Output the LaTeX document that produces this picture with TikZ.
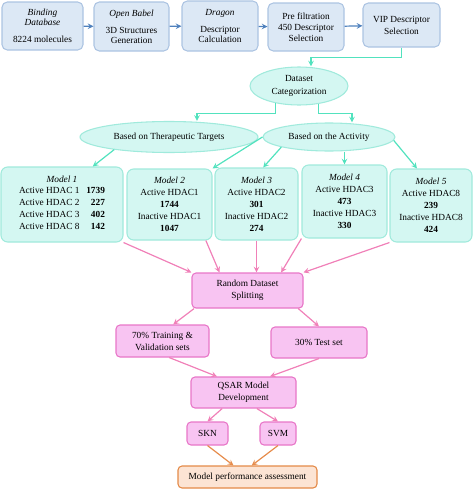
\documentclass[tikz,border=0pt]{standalone}
\usepackage{fontspec}
\setmainfont{Liberation Serif}
\usetikzlibrary{shapes,arrows,positioning,calc}

\definecolor{topfill}{RGB}{220,232,245}
\definecolor{topline}{RGB}{172,196,226}
\definecolor{toparrow}{RGB}{79,129,189}
\definecolor{cyfill}{RGB}{212,247,242}
\definecolor{cyline}{RGB}{160,234,220}
\definecolor{cyarrow}{RGB}{82,226,190}
\definecolor{pkfill}{RGB}{248,196,242}
\definecolor{pkline}{RGB}{232,118,200}
\definecolor{pkarrow}{RGB}{240,128,184}
\definecolor{orfill}{RGB}{252,228,212}
\definecolor{orline}{RGB}{228,138,72}
\definecolor{orarrow}{RGB}{230,140,76}

\begin{document}
\begin{tikzpicture}[x=0.75pt,y=-0.75pt]
  % Estilos
  \tikzstyle{toolbox}=[rectangle, rounded corners=4pt, draw=topline, fill=topfill, line width=0.8pt, align=center, inner sep=1pt, font=\fontsize{7}{8}\selectfont]
  \tikzstyle{catnode}=[ellipse, draw=cyline, fill=cyfill, line width=0.8pt, align=center, inner sep=0pt, font=\fontsize{7}{8}\selectfont]
  \tikzstyle{modelbox}=[rectangle, rounded corners=5pt, draw=cyline, fill=cyfill, line width=0.8pt, align=center, inner sep=1pt, font=\fontsize{7}{9}\selectfont]
  \tikzstyle{stagebox}=[rectangle, rounded corners=3pt, draw=pkline, fill=pkfill, line width=0.8pt, align=center, inner sep=1pt, font=\fontsize{7}{9}\selectfont]
  \tikzstyle{resultbox}=[rectangle, rounded corners=3pt, draw=orline, fill=orfill, line width=0.8pt, align=center, inner sep=1pt, font=\fontsize{7}{9}\selectfont]
  \tikzstyle{flowarrow}=[->, >=stealth, line width=0.9pt]

  \useasboundingbox (0,0) rectangle (474,489);

  % Cadena de preparacion de descriptores
  \node[toolbox, minimum width=60.75pt, minimum height=36pt] (bdb) at (42.5,26) {\textit{Binding}\\[-0.5pt]\textit{Database}\\[4.75pt]8224 molecules};
  \node[toolbox, minimum width=56.25pt, minimum height=36.75pt] (obabel) at (131.5,26.5) {\textit{Open Babel}\\[4.75pt]3D Structures\\[-0.5pt]Generation};
  \node[toolbox, minimum width=57pt, minimum height=37.5pt] (dragon) at (220,26) {\textit{Dragon}\\[4.75pt]Descriptor\\[-0.5pt]Calculation};
  \node[toolbox, minimum width=57pt, minimum height=36pt] (prefilt) at (306,27) {Pre filtration\\[0.25pt]450 Descriptor\\[0.25pt]Selection};
  \node[toolbox, minimum width=57.75pt, minimum height=33pt] (vip) at (401.5,25) {VIP Descriptor\\[1pt]Selection};

  \draw[flowarrow, toparrow] (bdb) -- (obabel);
  \draw[flowarrow, toparrow] (obabel) -- (dragon);
  \draw[flowarrow, toparrow] (dragon) -- (prefilt);
  \draw[flowarrow, toparrow] (prefilt) -- (vip);

  % Categorizacion
  \node[catnode, minimum width=73.5pt, minimum height=28.5pt] (dcat) at (299,86) {Dataset\\[1.5pt]Categorization};
  \node[catnode, minimum width=133.5pt, minimum height=23.25pt] (ther) at (169,137) {Based on Therapeutic Targets};
  \node[catnode, minimum width=99pt, minimum height=21pt] (act) at (329,137) {Based on the Activity};

  % Modelos
  \node[modelbox, minimum width=91.5pt, minimum height=56.25pt] (m1) at (62,204.5) {\textit{Model 1}\\[0.75pt]
    \begin{tabular}{@{}l@{\hspace{5pt}}r@{}}
      Active HDAC 1 & \textbf{1739}\\
      Active HDAC 2 & \textbf{227}\\
      Active HDAC 3 & \textbf{402}\\
      Active HDAC 8 & \textbf{142}
    \end{tabular}};
  \node[modelbox, minimum width=63.75pt, minimum height=53.25pt] (m2) at (169.5,204.5) {\textit{Model 2}\\Active HDAC1\\\textbf{1744}\\Inactive HDAC1\\\textbf{1047}};
  \node[modelbox, minimum width=62.25pt, minimum height=54pt] (m3) at (256.5,204) {\textit{Model 3}\\Active HDAC2\\\textbf{301}\\Inactive HDAC2\\\textbf{274}};
  \node[modelbox, minimum width=63.75pt, minimum height=54.75pt] (m4) at (344.5,201.5) {\textit{Model 4}\\Active HDAC3\\\textbf{473}\\Inactive HDAC3\\\textbf{330}};
  \node[modelbox, minimum width=61.5pt, minimum height=54.75pt] (m5) at (431,205.5) {\textit{Model 5}\\Active HDAC8\\\textbf{239}\\Inactive HDAC8\\\textbf{424}};

  \draw[flowarrow, cyarrow] (vip.south) -- ++(0,10) -| ([xshift=9pt]dcat.north);
  \draw[flowarrow, cyarrow] (dcat.216) -- ++(0,10) -| ([xshift=21pt]ther.north);
  \draw[flowarrow, cyarrow] (dcat.-43) -- ++(0,9.5) -| ([xshift=17.25pt]act.north);
  \draw[flowarrow, cyarrow] (ther.193) -- ($(m1.north)!0.5!(m1.north east)$);
  \draw[flowarrow, cyarrow] (act.west) -- (m2.north east);
  \draw[flowarrow, cyarrow] (act.192) -- ([xshift=5pt]m3.north);
  \draw[flowarrow, cyarrow] (m4.north |- act.south) -- (m4.north);
  \draw[flowarrow, cyarrow] (act.-3) -- ([xshift=-10.5pt]m5.north);

  % Particion y desarrollo QSAR
  \node[stagebox, minimum width=83.25pt, minimum height=26.25pt] (split) at (247.5,290.5) {Random Dataset\\Splitting};
  \node[stagebox, minimum width=69.75pt, minimum height=24pt] (train) at (162.5,341) {70\% Training \&\\Validation sets};
  \node[stagebox, minimum width=72pt, minimum height=23.25pt] (test) at (319,342.5) {30\% Test set};
  \node[stagebox, minimum width=78.75pt, minimum height=23.25pt] (qsar) at (243.5,392.5) {QSAR Model\\Development};
  \node[stagebox, minimum width=30.75pt, minimum height=17.25pt] (skn) at (207.5,433.5) {SKN};
  \node[stagebox, minimum width=27pt, minimum height=17.25pt] (svm) at (278,433.5) {SVM};
  \node[resultbox, minimum width=104.25pt, minimum height=16.5pt] (perf) at (247.5,477) {Model performance assessment};

  \draw[flowarrow, pkarrow] (m1.south east) -- (split.north west);
  \draw[flowarrow, pkarrow] ([xshift=-5pt]m2.south east) -- ($(split.north west)!0.25!(split.north east)$);
  \draw[flowarrow, pkarrow] (m3.south) -- (m3.south |- split.north);
  \draw[flowarrow, pkarrow] (m4.south west) -- ($(split.north west)!0.8!(split.north east)$);
  \draw[flowarrow, pkarrow] (m5.south west) -- (split.north east);
  \draw[flowarrow, pkarrow] ([xshift=2pt]split.south west) -- ([xshift=8pt]train.north);
  \draw[flowarrow, pkarrow] ([xshift=-4pt]split.south east) -- (test.north);
  \draw[flowarrow, pkarrow] ([xshift=5pt]train.south) -- ($(qsar.north west)!0.25!(qsar.north east)$);
  \draw[flowarrow, pkarrow] (test.south) -- ($(qsar.north west)!0.75!(qsar.north east)$);
  \draw[flowarrow, pkarrow] ([xshift=-16pt]qsar.south) -- (skn.north);
  \draw[flowarrow, pkarrow] ([xshift=10pt]qsar.south) -- (svm.north);

  % Evaluacion
  \draw[flowarrow, orarrow] (skn.south) -- ($(perf.north west)!0.4!(perf.north east)$);
  \draw[flowarrow, orarrow] (svm.south) -- ($(perf.north west)!0.53!(perf.north east)$);
\end{tikzpicture}
\end{document}
